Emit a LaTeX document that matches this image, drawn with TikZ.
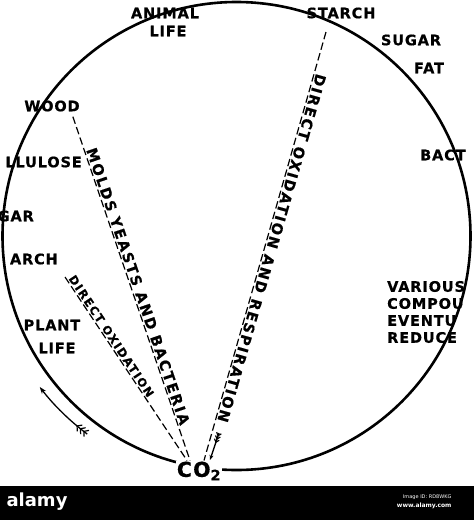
\documentclass[tikz,border=0pt]{standalone}
\usepackage{fontspec}
\usepackage{tikz}
\usetikzlibrary{arrows.meta, calc}
\newfontfamily\labfont{DejaVu Sans Bold}[LetterSpace=6, FakeBold=0.6]
\newfontfamily\routefont{DejaVu Sans Bold}[LetterSpace=13, FakeBold=0.6]
\newfontfamily\markfont{DejaVu Sans}

\begin{document}
\begin{tikzpicture}[
    x=1pt, y=-1pt,
    lab/.style={font=\labfont\fontsize{14.5}{17}\selectfont, inner sep=0pt},
    path lab/.style={font=\routefont\fontsize{14.5}{17}\selectfont, sloped, allow upside down, above, inner sep=1pt},
    small lab/.style={path lab, font=\routefont\fontsize{11.5}{13}\selectfont},
    route/.style={dash pattern=on 7.5pt off 3.5pt, line width=1.2pt},
    wheel/.style={line width=2.6pt},
    shaft/.style={line width=1.3pt, -{Stealth[length=7pt, width=5pt]}},
    feather/.style={line width=1.2pt}
  ]

    \useasboundingbox (0,0) rectangle (474,520);
    \coordinate (c) at (236.5,236);
    \draw[wheel] (c) circle[radius=234];

    \node[lab] (animal) at (165,13) {ANIMAL};
    \node[lab] (animallife) at (168,31) {LIFE};
    \node[lab] (starch) at (341,13) {STARCH};
    \node[lab] (sugar) at (411,40) {SUGAR};
    \node[lab] (fat) at (429,68) {FAT};
    \node[lab] (wood) at (52,106) {WOOD};
    \node[lab, anchor=east] (cellulose) at (82,162) {LLULOSE};
    \node[lab, anchor=east] (sugarl) at (34,216) {GAR};
    \node[lab, anchor=east] (starchl) at (58,259) {ARCH};
    \node[lab] (plant) at (52,325) {PLANT};
    \node[lab] (plantlife) at (57,348) {LIFE};
    \node[lab, anchor=west] (bact) at (420,155) {BACT};
    \node[lab, align=left, anchor=west] (various) at (387,312) {VARIOUS\\COMPOU\\EVENTU\\REDUCE};
    \node[lab, font=\labfont\fontsize{20.5}{21}\selectfont, fill=white, inner sep=1pt] (co2) at (199,471) {CO\textsubscript{2}};

    \coordinate (ox) at (65,277);
    \draw[route] ([xshift=-15pt, yshift=-19pt]starch.center) -- node[path lab] {DIRECT OXIDATION AND RESPIRATION} ([xshift=5pt]co2.north);
    \draw[route] ([xshift=-7pt, yshift=-5pt]wood.south east) -- node[path lab] {MOLDS YEASTS AND BACTERIA} ([xshift=-9pt]co2.north);
    \draw[route] (ox) -- node[small lab, pos=0.34] {DIRECT OXIDATION} ([xshift=-12pt]co2.north);

    \coordinate (rt) at (219,433);
    \coordinate (rh) at (210,460);
    \draw[shaft, -{Stealth[length=5pt, width=4pt]}] (rt) -- (rh);
    \foreach \t in {0,0.12,0.24}
      \draw[feather] ($(rt)!\t!(rh)!2.5pt!90:(rh)$) -- ($(rt)!{\t+0.1}!(rh)$) -- ($(rt)!\t!(rh)!2.5pt!-90:(rh)$);

    \coordinate (lt) at ($(c)+(127:248)$);
    \draw[shaft] (lt) arc[start angle=127, end angle=142.5, radius=248];
    \foreach \a in {127.2,128.2,129.2}
      \draw[feather] ($(c)+(\a:244)$) -- ($(c)+({\a+0.8}:248)$) -- ($(c)+(\a:252)$);

    \fill[black] (0,486) rectangle (474,520);
    \node[text=white, font=\markfont\bfseries\fontsize{18}{18}\selectfont] (alamy) at (37,502) {alamy};
    \node[text=white, font=\markfont\fontsize{5}{6}\selectfont, anchor=east] (imgid) at (455,497) {Image ID: RD8WKG};
    \node[text=white, font=\markfont\bfseries\fontsize{6}{7}\selectfont, anchor=east] (www) at (455,506) {www.alamy.com};

  \end{tikzpicture}
\end{document}
